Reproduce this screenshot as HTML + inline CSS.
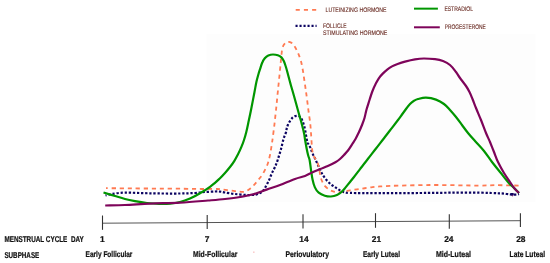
<!DOCTYPE html>
<html><head><meta charset="utf-8"><style>
html,body{margin:0;padding:0;background:#fff;}
svg{display:block;}
.lg{font-family:"Liberation Sans",sans-serif;font-size:6.6px;fill:#6a2c24;stroke:#6a2c24;stroke-width:0.12px;text-rendering:geometricPrecision;}
.ax{font-family:"Liberation Sans",sans-serif;font-size:8.4px;fill:#111;stroke:#111;stroke-width:0.22px;font-weight:bold;text-rendering:geometricPrecision;white-space:pre;}
</style></head><body>
<svg width="550" height="263" viewBox="0 0 550 263">
<rect width="550" height="263" fill="#fff"/>
<rect x="206.5" y="34" width="329" height="168" fill="#fdfdfd"/>
<!-- legend -->
<line x1="295.7" y1="9.9" x2="316.6" y2="9.9" stroke="#ff7a52" stroke-width="1.8" stroke-dasharray="4.1 4.1"/>
<text class="lg" x="325.5" y="11.5" textLength="61.1" lengthAdjust="spacingAndGlyphs">LUTEINIZING HORMONE</text>
<line x1="295.5" y1="25.8" x2="316.6" y2="25.8" stroke="#0c0462" stroke-width="2.2" stroke-dasharray="2.1 1.9"/>
<text class="lg" x="323" y="27.6" textLength="23.6" lengthAdjust="spacingAndGlyphs">FOLLICLE</text>
<text class="lg" x="323" y="35" textLength="64.4" lengthAdjust="spacingAndGlyphs">STIMULATING HORMONE</text>
<line x1="414" y1="8.65" x2="437.9" y2="8.65" stroke="#009600" stroke-width="2"/>
<text class="lg" x="444.4" y="11.4" textLength="28.6" lengthAdjust="spacingAndGlyphs">ESTRADIOL</text>
<line x1="414" y1="27.3" x2="439.8" y2="27.3" stroke="#7e045a" stroke-width="2"/>
<text class="lg" x="444.7" y="28.9" textLength="41.1" lengthAdjust="spacingAndGlyphs">PROGESTERONE</text>
<!-- axis -->
<line x1="102.5" y1="223.2" x2="520.4" y2="220.7" stroke="#555" stroke-width="1"/>
<g stroke="#333" stroke-width="1.1">
<line x1="102.5" y1="215.5" x2="102.5" y2="229.8"/>
<line x1="207.2" y1="215" x2="207.2" y2="229"/>
<line x1="303" y1="214.2" x2="303" y2="228.5"/>
<line x1="375.5" y1="213.2" x2="375.5" y2="227.8"/>
<line x1="449.3" y1="214.2" x2="449.3" y2="228.8"/>
<line x1="520.4" y1="213.3" x2="520.4" y2="227.1"/>
</g>
<!-- curves -->
<g fill="none" stroke-linecap="butt" stroke-linejoin="round">
<path d="M105.5 195.5 C106.6 195.2 108.8 194.5 112.0 194.0 C115.2 193.5 118.7 192.7 125.0 192.6 C131.3 192.5 140.8 193.2 150.0 193.3 C159.2 193.5 172.5 193.6 180.0 193.5 C187.5 193.4 190.8 193.2 195.0 193.0 C199.2 192.8 201.7 192.2 205.0 192.0 C208.3 191.8 212.5 191.6 215.0 191.5 C217.5 191.4 218.3 191.4 220.0 191.6 C221.7 191.8 222.5 192.1 225.0 192.5 C227.5 192.9 231.4 193.6 235.0 194.0 C238.6 194.4 243.2 194.9 246.7 195.0 C250.2 195.1 253.6 195.0 256.0 194.6 C258.4 194.2 260.0 193.1 261.3 192.3 C262.6 191.5 263.1 190.8 264.0 189.6 C264.9 188.4 265.7 186.7 266.6 185.0 C267.5 183.3 268.4 181.6 269.3 179.6 C270.2 177.6 271.0 175.2 272.0 173.0 C273.0 170.8 274.3 168.6 275.3 166.3 C276.3 164.0 277.1 161.9 278.0 159.0 C278.9 156.1 280.1 152.3 281.0 149.0 C281.9 145.7 282.7 141.7 283.5 139.0 C284.3 136.3 285.3 134.6 285.9 132.7 C286.5 130.8 286.4 129.4 286.9 127.8 C287.4 126.2 287.9 124.5 288.9 122.8 C289.9 121.1 291.5 118.6 292.8 117.4 C294.1 116.2 295.6 115.9 296.8 115.8 C298.0 115.7 299.1 116.0 300.0 116.8 C300.9 117.6 301.6 119.0 302.3 120.5 C303.0 122.0 303.5 123.8 304.0 125.5 C304.5 127.2 304.9 128.9 305.3 131.0 C305.7 133.1 306.1 136.1 306.5 138.0 C306.9 139.9 307.1 141.3 307.5 142.5 C307.9 143.7 308.6 144.3 309.1 145.3 C309.7 146.3 310.3 147.5 310.8 148.6 C311.3 149.7 311.5 150.8 312.0 152.0 C312.5 153.2 313.1 154.8 313.7 156.0 C314.3 157.2 314.8 158.1 315.4 159.4 C316.0 160.7 316.7 162.2 317.5 164.0 C318.3 165.8 319.4 168.2 320.2 169.9 C321.0 171.6 321.5 172.8 322.5 174.4 C323.5 176.1 324.9 178.2 326.3 179.8 C327.7 181.5 329.4 183.0 330.9 184.3 C332.4 185.6 333.9 186.4 335.4 187.4 C336.9 188.4 338.5 189.6 340.0 190.4 C341.5 191.2 342.8 191.8 344.5 192.2 C346.2 192.6 344.1 192.7 350.0 192.9 C355.9 193.1 368.3 193.2 380.0 193.2 C391.7 193.2 408.3 193.1 420.0 193.0 C431.7 192.9 440.0 192.8 450.0 192.7 C460.0 192.6 471.8 192.6 480.0 192.7 C488.2 192.8 494.6 193.1 499.0 193.3 C503.4 193.5 504.5 193.8 506.6 194.0 C508.7 194.2 509.6 194.4 511.4 194.5 C513.1 194.6 515.8 194.6 517.1 194.5 C518.4 194.4 518.7 194.1 519.0 194.0" stroke="#0c0462" stroke-width="2.2" stroke-dasharray="2.3 1.8" stroke-dashoffset="1"/>
<path d="M106.0 188.2 C110.0 188.2 121.0 188.3 130.0 188.4 C139.0 188.5 150.0 188.5 160.0 188.6 C170.0 188.7 182.5 188.7 190.0 188.8 C197.5 188.9 200.5 189.0 205.0 189.0 C209.5 189.0 214.2 188.9 217.0 189.0 C219.8 189.1 219.8 189.2 222.0 189.5 C224.2 189.8 227.3 190.2 230.0 190.5 C232.7 190.8 235.5 191.3 238.0 191.5 C240.5 191.7 242.9 192.1 245.0 191.6 C247.1 191.1 249.1 189.5 250.7 188.3 C252.3 187.1 253.3 185.8 254.6 184.3 C255.9 182.9 257.3 181.3 258.6 179.6 C259.9 177.9 261.4 176.3 262.6 174.3 C263.8 172.3 265.1 169.6 266.0 167.7 C266.9 165.8 267.3 165.1 268.0 163.0 C268.7 160.9 269.3 158.3 270.0 155.0 C270.7 151.7 271.3 147.5 272.0 143.0 C272.7 138.5 273.3 133.5 274.0 128.0 C274.7 122.5 275.3 116.3 276.0 110.0 C276.7 103.7 277.3 96.7 278.0 90.0 C278.7 83.3 279.5 75.3 280.0 70.0 C280.5 64.7 280.8 61.5 281.2 58.0 C281.6 54.5 281.7 51.2 282.2 49.0 C282.7 46.8 283.3 45.6 284.0 44.5 C284.7 43.4 285.7 42.6 286.5 42.2 C287.3 41.8 288.1 41.7 289.0 41.9 C289.9 42.1 291.0 42.4 292.0 43.2 C293.0 44.1 294.0 45.4 295.0 47.0 C296.0 48.6 297.0 50.8 298.0 53.0 C299.0 55.2 300.0 57.7 300.8 60.5 C301.6 63.3 302.2 66.8 302.8 70.0 C303.4 73.2 303.8 76.8 304.3 80.0 C304.8 83.2 305.2 85.8 305.6 89.0 C306.1 92.2 306.5 95.2 307.0 99.0 C307.5 102.8 308.1 107.8 308.6 112.0 C309.2 116.2 309.9 120.0 310.3 124.0 C310.7 128.0 310.9 132.0 311.2 136.0 C311.5 140.0 311.7 144.9 312.0 148.0 C312.3 151.1 312.7 153.1 313.2 154.8 C313.7 156.5 314.3 157.1 315.0 158.2 C315.7 159.3 316.5 159.9 317.2 161.5 C317.9 163.1 318.5 165.6 319.0 168.0 C319.5 170.4 319.9 173.9 320.4 176.0 C320.9 178.1 321.1 178.8 321.8 180.5 C322.5 182.2 323.6 184.4 324.8 185.9 C326.1 187.4 327.8 188.8 329.3 189.7 C330.8 190.6 332.4 191.2 333.9 191.6 C335.4 192.0 336.8 192.2 338.5 192.2 C340.2 192.2 342.1 191.9 344.0 191.6 C345.9 191.3 347.3 190.7 350.0 190.3 C352.7 189.9 356.7 189.5 360.0 189.0 C363.3 188.5 366.7 187.9 370.0 187.5 C373.3 187.1 375.0 186.7 380.0 186.4 C385.0 186.1 391.7 185.8 400.0 185.6 C408.3 185.4 420.0 185.1 430.0 185.0 C440.0 184.9 451.7 185.2 460.0 185.3 C468.3 185.4 474.0 185.6 480.0 185.6 C486.0 185.6 489.5 185.2 496.0 185.2 C502.5 185.2 515.2 185.5 519.0 185.6" stroke="#ff7a52" stroke-width="1.8" stroke-dasharray="4.2 3.8" stroke-dashoffset="2.2"/>
<path d="M103.5 192.5 C105.4 193.1 111.4 194.9 115.0 196.0 C118.6 197.1 121.7 198.1 125.0 199.0 C128.3 199.9 131.3 200.5 135.0 201.2 C138.7 201.9 143.0 202.6 147.0 203.0 C151.0 203.4 155.2 203.7 159.0 203.8 C162.8 203.9 166.5 203.9 170.0 203.6 C173.5 203.3 176.7 202.8 180.0 202.0 C183.3 201.2 186.7 200.0 190.0 198.6 C193.3 197.2 196.7 195.3 200.0 193.3 C203.3 191.3 207.5 188.6 210.0 186.8 C212.5 185.1 213.3 184.2 215.0 182.8 C216.7 181.4 218.3 179.8 220.0 178.2 C221.7 176.6 223.3 174.9 225.0 173.0 C226.7 171.1 228.4 169.0 230.0 167.0 C231.6 165.0 233.1 162.9 234.4 160.8 C235.7 158.7 236.8 156.6 238.0 154.3 C239.2 152.0 240.3 149.6 241.3 147.2 C242.3 144.8 243.2 142.5 244.0 140.0 C244.8 137.5 245.5 135.2 246.3 132.0 C247.1 128.8 247.9 124.7 248.8 120.5 C249.7 116.3 250.7 111.8 251.6 107.0 C252.5 102.2 253.7 96.2 254.5 92.0 C255.3 87.8 255.8 84.5 256.5 81.5 C257.2 78.5 257.9 76.2 258.5 74.0 C259.1 71.8 259.7 70.2 260.3 68.3 C260.9 66.4 261.4 64.5 262.2 62.8 C262.9 61.1 263.8 59.5 264.8 58.3 C265.8 57.1 266.9 56.1 268.3 55.5 C269.7 54.9 271.4 54.5 273.0 54.5 C274.6 54.5 276.4 54.7 277.8 55.2 C279.2 55.7 280.4 56.4 281.4 57.4 C282.4 58.4 283.1 59.6 283.8 61.0 C284.5 62.4 285.0 64.2 285.6 66.0 C286.2 67.8 286.5 68.8 287.2 71.5 C287.9 74.2 288.9 77.9 290.0 82.0 C291.1 86.1 292.8 91.7 294.0 96.0 C295.2 100.3 296.2 104.0 297.3 108.0 C298.4 112.0 299.8 116.7 300.7 120.0 C301.6 123.3 302.2 125.7 302.8 128.0 C303.4 130.3 303.8 132.0 304.2 134.0 C304.6 136.0 304.5 136.5 305.1 140.0 C305.7 143.5 307.2 151.5 308.0 154.8 C308.8 158.1 309.1 157.4 309.6 160.0 C310.1 162.6 310.6 167.3 311.1 170.6 C311.6 173.9 312.0 177.0 312.6 179.8 C313.2 182.6 313.9 185.2 314.9 187.4 C315.9 189.6 317.0 191.3 318.7 192.7 C320.4 194.1 322.8 195.1 324.8 195.7 C326.8 196.3 328.9 196.6 330.9 196.5 C332.9 196.4 335.2 195.8 337.0 195.0 C338.8 194.2 340.2 193.2 341.5 192.0 C342.8 190.8 343.6 189.8 345.0 188.1 C346.4 186.4 348.5 183.8 350.0 182.0 C351.5 180.2 352.3 179.1 354.0 177.0 C355.7 174.9 357.7 172.2 360.0 169.2 C362.3 166.2 365.3 162.2 368.0 158.8 C370.7 155.4 373.3 151.9 376.0 148.5 C378.7 145.1 381.3 141.6 384.0 138.2 C386.7 134.8 389.7 130.8 392.0 127.8 C394.3 124.8 396.3 122.2 398.0 120.0 C399.7 117.8 400.7 116.3 402.0 114.5 C403.3 112.7 404.7 110.8 406.0 109.0 C407.3 107.2 408.7 105.4 410.0 104.0 C411.3 102.6 412.7 101.6 414.0 100.8 C415.3 100.0 416.0 99.5 418.0 99.0 C420.0 98.5 423.0 97.5 426.0 97.6 C429.0 97.7 433.0 98.5 436.0 99.6 C439.0 100.7 441.7 102.3 444.0 104.0 C446.3 105.7 448.0 107.8 450.0 110.0 C452.0 112.2 454.0 114.5 456.0 117.0 C458.0 119.5 460.0 122.3 462.0 125.0 C464.0 127.7 465.8 130.3 468.0 133.0 C470.2 135.7 472.3 138.0 475.0 141.0 C477.7 144.0 481.2 147.5 484.0 151.0 C486.8 154.5 489.3 158.5 492.0 162.0 C494.7 165.5 497.3 168.7 500.0 172.0 C502.7 175.3 505.7 179.3 508.0 182.0 C510.3 184.7 512.2 186.2 514.0 188.0 C515.8 189.8 518.2 192.2 519.0 193.0" stroke="#009600" stroke-width="2.2"/>
<path d="M105.2 205.5 C108.5 205.4 117.5 205.3 125.0 205.0 C132.5 204.7 140.8 204.0 150.0 203.6 C159.2 203.2 170.3 203.1 180.0 202.6 C189.7 202.1 200.5 201.1 208.0 200.5 C215.5 199.9 219.7 199.6 225.0 199.0 C230.3 198.4 235.3 197.8 240.0 197.0 C244.7 196.2 248.9 195.5 253.3 194.3 C257.7 193.1 262.2 191.2 266.6 189.6 C271.1 188.0 275.3 186.8 280.0 185.0 C284.7 183.2 290.8 180.5 295.0 179.0 C299.2 177.5 302.1 177.1 305.0 176.0 C307.9 174.9 310.1 173.3 312.6 172.2 C315.1 171.0 317.7 170.1 320.2 169.1 C322.7 168.1 325.3 167.2 327.8 166.1 C330.3 165.0 333.4 163.5 335.4 162.3 C337.4 161.1 338.6 160.2 340.0 159.0 C341.4 157.8 342.7 156.4 344.0 155.0 C345.3 153.6 346.7 152.2 348.0 150.5 C349.3 148.8 350.8 146.4 352.0 144.5 C353.2 142.6 354.3 141.1 355.5 139.0 C356.7 136.9 357.9 134.3 359.0 132.0 C360.1 129.7 361.1 127.3 362.0 125.0 C362.9 122.7 363.8 120.5 364.5 118.0 C365.2 115.5 365.6 113.0 366.4 110.0 C367.2 107.0 368.5 103.2 369.5 100.0 C370.5 96.8 371.5 93.6 372.5 91.0 C373.5 88.4 374.4 86.3 375.5 84.2 C376.6 82.1 377.6 80.1 378.8 78.3 C380.1 76.5 381.6 74.8 383.0 73.4 C384.4 72.0 385.7 70.9 387.2 69.7 C388.7 68.5 390.3 67.4 392.0 66.4 C393.7 65.5 395.4 64.8 397.6 64.0 C399.8 63.2 402.1 62.4 405.0 61.6 C407.9 60.8 411.8 59.8 415.0 59.3 C418.2 58.8 420.7 58.5 424.0 58.5 C427.3 58.5 431.8 58.8 435.0 59.2 C438.2 59.6 440.5 60.1 443.0 61.1 C445.5 62.1 447.8 63.2 450.0 65.0 C452.2 66.8 454.3 69.8 456.0 72.0 C457.7 74.2 458.3 75.7 460.0 78.0 C461.7 80.3 464.4 83.7 466.0 86.0 C467.6 88.3 468.4 89.8 469.5 92.0 C470.6 94.2 471.4 96.3 472.5 99.0 C473.6 101.7 474.6 104.5 476.0 108.0 C477.4 111.5 479.3 115.8 481.0 120.0 C482.7 124.2 484.5 129.3 486.0 133.0 C487.5 136.7 488.7 138.8 490.0 142.0 C491.3 145.2 492.7 148.7 494.0 152.0 C495.3 155.3 496.3 158.5 498.0 162.0 C499.7 165.5 502.0 169.7 504.0 173.0 C506.0 176.3 508.2 179.3 510.0 182.0 C511.8 184.7 513.5 187.2 515.0 189.0 C516.5 190.8 518.3 192.3 519.0 193.0" stroke="#7e045a" stroke-width="2.2"/>
<path d="M510.6 194.2 L514 193.6 L512.6 196.8 Z" fill="#7e045a" stroke="none" opacity="0.8"/>
<rect x="510.6" y="193" width="3" height="2.3" fill="#0c0462" stroke="none"/>
</g>
<rect x="253.3" y="251.6" width="1.1" height="1.1" fill="#f59c9c"/>
<!-- axis labels -->
<text class="ax" x="4.4" y="242.3" textLength="79.3" lengthAdjust="spacingAndGlyphs">MENSTRUAL CYCLE  DAY</text>
<text class="ax" x="4.4" y="257.8" textLength="34.9" lengthAdjust="spacingAndGlyphs">SUBPHASE</text>
<g class="ax" text-anchor="middle">
<text x="102.3" y="242.2">1</text>
<text x="207.2" y="242.2">7</text>
<text x="304" y="242.2">14</text>
<text x="376.5" y="242.2">21</text>
<text x="448.8" y="242.2">24</text>
<text x="520.8" y="242.2">28</text>
</g>
<text class="ax" x="85.6" y="257" textLength="46.8" lengthAdjust="spacingAndGlyphs">Early Follicular</text>
<text class="ax" x="193" y="257" textLength="44.4" lengthAdjust="spacingAndGlyphs">Mid-Follicular</text>
<text class="ax" x="285.4" y="257" textLength="43.6" lengthAdjust="spacingAndGlyphs">Periovulatory</text>
<text class="ax" x="363" y="257" textLength="37" lengthAdjust="spacingAndGlyphs">Early Luteal</text>
<text class="ax" x="435.9" y="257" textLength="35.1" lengthAdjust="spacingAndGlyphs">Mid-Luteal</text>
<text class="ax" x="509.6" y="257" textLength="35.4" lengthAdjust="spacingAndGlyphs">Late Luteal</text>
</svg>
</body></html>
